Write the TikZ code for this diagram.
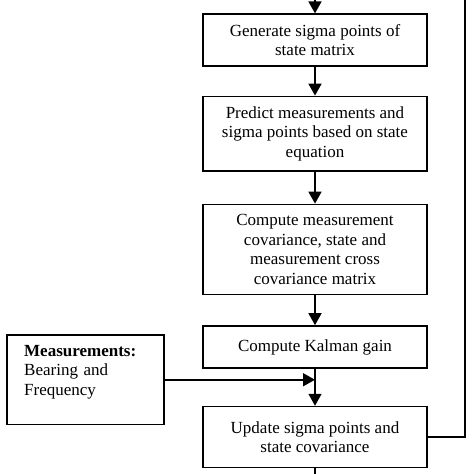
\documentclass[tikz,border=0pt]{standalone}
\usepackage{fontspec}
\setmainfont{Liberation Serif}
\usetikzlibrary{positioning,arrows.meta}

\begin{document}
\begin{tikzpicture}[
    x=1pt, y=1pt,
    node distance=30pt,
    every node/.style={
        font=\fontsize{17}{19.5}\selectfont
    },
    stepbox/.style={
        draw,
        line width=1.6pt,
        minimum width=224pt,
        inner ysep=10pt,
        align=center
    },
    inbox/.style={
        draw,
        line width=1.6pt,
        text width=123pt,
        inner xsep=17pt,
        inner ysep=10pt,
        align=left
    },
    arrow/.style={-{Triangle[length=12pt,width=13pt]}, line width=1.6pt},
    line/.style={line width=1.6pt}
]
\useasboundingbox (0,0) rectangle (474,-474);

% Nodes
\node (gen) [stepbox] at (315,-40) {Generate sigma points of\\state matrix};
\node (pred) [stepbox, below=29pt of gen] {Predict measurements and\\sigma points based on state\\equation};
\node (cov) [stepbox, below=32pt of pred] {Compute measurement\\covariance, state and\\measurement cross\\covariance matrix};
\node (gain) [stepbox, below=of cov, minimum height=42pt] {Compute Kalman gain};
\node (upd) [stepbox, below=37pt of gain, minimum height=61pt] {Update sigma points and\\state covariance};

\coordinate (join) at ([yshift=-11pt]gain.south);
\node (meas) [inbox, left=150pt of join] {\textbf{Measurements:}\\Bearing and\\Frequency\\\mbox{}};

\coordinate (fbtop) at (465,0);
\coordinate (intop) at (gen.north |- fbtop);
\coordinate (outbot) at (upd.south |- 0,-474);

% Arrows
\draw[arrow] (intop) -- (gen);
\draw[arrow] (gen) -- (pred);
\draw[arrow] (pred) -- (cov);
\draw[arrow] (cov) -- (gain);
\draw[arrow] (gain) -- (upd);
\draw[arrow] (meas) -- (join);
\draw[line] (upd.east) -| (fbtop);
\draw[line] (upd) -- (outbot);

\end{tikzpicture}
\end{document}
